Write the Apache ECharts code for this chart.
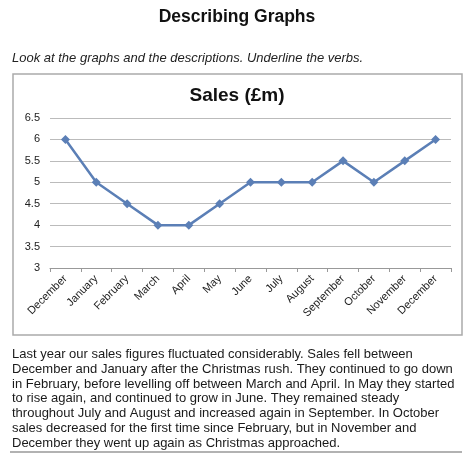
<!DOCTYPE html>
<html>
<head>
<meta charset="utf-8">
<script src="https://cdn.jsdelivr.net/npm/echarts@6/dist/echarts.min.js"></script>
<style>
    html, body { margin: 0; padding: 0; background: #fff; }
    #chart { width: 474px; height: 460px; }
</style>
</head>
<body>
<div id="chart"></div>
<script>
// Months along the x axis
const months = [
    'December', 'January', 'February', 'March', 'April', 'May', 'June',
    'July', 'August', 'September', 'October', 'November', 'December',
];
// Sales in £m
const sales = [6, 5, 4.5, 4, 4, 4.5, 5, 5, 5, 5.5, 5, 5.5, 6];
// Description text under the chart, one entry per line
const paragraph = [
    'Last year our sales figures fluctuated considerably. Sales fell between',
    'December and January after the Christmas rush. They continued to go down',
    'in February, before levelling off between March and April. In May they started',
    'to rise again, and continued to grow in June. They remained steady',
    'throughout July and August and increased again in September. In October',
    'sales decreased for the first time since February, but in November and',
    'December they went up again as Christmas approached.',
];

const font = '"Liberation Sans", Arial, sans-serif';

const chart = echarts.init(document.getElementById('chart'));

let textLines = paragraph.map((line, i) => ({
    type: 'text',
    left: 12,
    top: 348 + i * 14.8,
    style: {
        text: line,
        font: '13px ' + font,
        fill: '#1a1a1a',
    },
}));

let option = {
    backgroundColor: '#fff',
    title: [
        {
            text: 'Describing Graphs',
            left: 'center',
            top: 8,
            padding: 0,
            textStyle: { fontFamily: font, fontSize: 17.5, fontWeight: 'bold', color: '#111' },
        },
        {
            text: 'Look at the graphs and the descriptions. Underline the verbs.',
            left: 12,
            top: 52,
            padding: 0,
            textStyle: { fontFamily: font, fontSize: 13, fontStyle: 'italic', fontWeight: 'normal', color: '#222' },
        },
        {
            text: 'Sales (£m)',
            left: 'center',
            top: 86,
            padding: 0,
            textStyle: { fontFamily: font, fontSize: 19, fontWeight: 'bold', color: '#111' },
        },
    ],
    graphic: [
        // chart frame
        {
            type: 'rect',
            shape: { x: 13, y: 74, width: 449, height: 261 },
            style: { fill: 'none', stroke: '#aaa', lineWidth: 1.5 },
            z: -1,
        },
        // rule under the paragraph
        {
            type: 'line',
            shape: { x1: 10, y1: 452, x2: 462, y2: 452 },
            style: { stroke: '#999', lineWidth: 1.5 },
        },
    ].concat(textLines),
    grid: {
        left: 50,
        right: 23,
        top: 118,
        bottom: 192,
    },
    xAxis: {
        type: 'category',
        data: months,
        boundaryGap: true,
        axisLine: { lineStyle: { color: '#999' } },
        axisTick: { show: true, length: 4, lineStyle: { color: '#999' } },
        axisLabel: {
            rotate: 45,
            interval: 0,
            fontFamily: font,
            fontSize: 11,
            color: '#222',
            margin: 9,
        },
    },
    yAxis: {
        type: 'value',
        min: 3,
        max: 6.5,
        interval: 0.5,
        axisLine: { show: false },
        axisTick: { show: false },
        splitLine: { lineStyle: { color: '#bbb', width: 1 } },
        axisLabel: {
            fontFamily: font,
            fontSize: 11,
            color: '#222',
            margin: 10,
        },
    },
    series: [
        {
            name: 'Sales',
            type: 'line',
            data: sales,
            symbol: 'diamond',
            symbolSize: 9,
            lineStyle: { color: '#5b7fb6', width: 2.5 },
            itemStyle: { color: '#5b7fb6' },
        },
    ],
    animation: false,
};
chart.setOption(option);
</script>
</body>
</html>
